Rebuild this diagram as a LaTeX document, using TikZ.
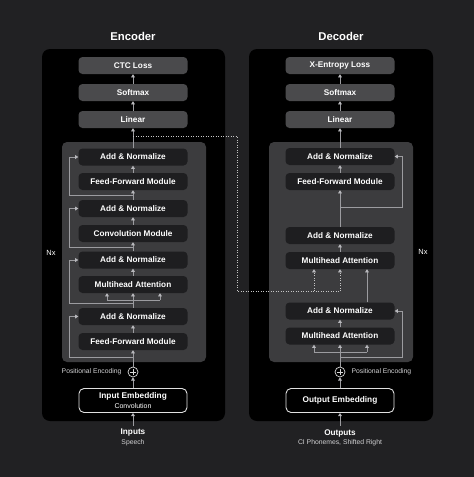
\documentclass[tikz,border=0pt]{standalone}
\usepackage{fontspec}
\setmainfont{Liberation Sans}
\usetikzlibrary{arrows.meta,shapes.geometric}
\definecolor{bg}{HTML}{212123}
\definecolor{panelgray}{HTML}{3C3C3E}
\definecolor{topfill}{HTML}{4A4A4C}
\definecolor{innerfill}{HTML}{1E1E20}
\definecolor{linec}{HTML}{9C9CA0}
\definecolor{tipc}{HTML}{B8B8BC}
\definecolor{subtext}{HTML}{D2D2D4}
\tikzset{
  boxbase/.style={rounded corners=4pt, minimum width=109pt, minimum height=17pt, inner sep=0pt, text=white, font=\bfseries\fontsize{8.2}{9}\selectfont},
  topbox/.style={boxbase, fill=topfill},
  innerbox/.style={boxbase, fill=innerfill},
  embbox/.style={draw=white!88!black, line width=0.9pt, fill=black, rounded corners=5pt, minimum width=108pt, minimum height=24pt, inner sep=0pt, text=white, align=center},
  conn/.style={draw=linec, line width=0.7pt},
  arr/.style={conn, -{Triangle[width=3.8pt,length=3.2pt,color=tipc]}},
  dotc/.style={draw=white!78!black, line width=0.9pt, dash pattern=on 0.9pt off 1.6pt},
  dotarr/.style={dotc, -{Triangle[width=3.8pt,length=3.2pt,color=tipc]}},
  title/.style={text=white, font=\bfseries\fontsize{11.3}{13}\selectfont},
  small/.style={text=subtext, font=\fontsize{6.8}{8}\selectfont},
  nx/.style={text=white, font=\fontsize{7.5}{9}\selectfont},
  pecirc/.style={circle, draw=white!85!black, line width=0.7pt, minimum size=10pt, inner sep=0pt},
}
\begin{document}
\begin{tikzpicture}[x=1pt,y=-1pt]
\useasboundingbox (0,0) rectangle (474,477);
\fill[bg] (0,0) rectangle (474,477);

% panels
\fill[black, rounded corners=8pt] (42,49) rectangle (225,421);
\fill[black, rounded corners=8pt] (249,49) rectangle (433,421);
\fill[panelgray, rounded corners=5pt] (62,142) rectangle (206,362);
\fill[panelgray, rounded corners=5pt] (269,142) rectangle (413,362);

% titles
\node[title] (enct) at (133,36) {Encoder};
\node[title] (dect) at (341,36) {Decoder};
\node[nx] (nxe) at (51,253) {Nx};
\node[nx] (nxd) at (423,252) {Nx};

% ---------------- Encoder ----------------
\node[topbox] (ctc) at (133,65.5) {CTC Loss};
\node[topbox] (esm) at (133,92.5) {Softmax};
\node[topbox] (elin) at (133,119.5) {Linear};
\node[innerbox] (ean1) at (133,157) {Add \& Normalize};
\node[innerbox] (eff1) at (133,181.5) {Feed-Forward Module};
\node[innerbox] (ean2) at (133,208.5) {Add \& Normalize};
\node[innerbox] (econv) at (133,233.5) {Convolution Module};
\node[innerbox] (ean3) at (133,260) {Add \& Normalize};
\node[innerbox] (emha) at (133,284.5) {Multihead Attention};
\node[innerbox] (ean4) at (133,316.5) {Add \& Normalize};
\node[innerbox] (eff4) at (133,341.5) {Feed-Forward Module};
\node[pecirc] (epe) at (133,372) {};
\draw[white!85!black, line width=0.7pt] ([xshift=-3pt]epe.center) -- ([xshift=3pt]epe.center) ([yshift=-3pt]epe.center) -- ([yshift=3pt]epe.center);
\node[small, anchor=east] (epel) at (125,372) {Positional Encoding};
\node[embbox] (eemb) at (133,400.5) {{\bfseries\fontsize{8.3}{9}\selectfont Input Embedding}\\[-1.5pt]{\fontsize{7}{8}\selectfont Convolution}};
\node[text=white, font=\bfseries\fontsize{8.2}{9}\selectfont] (ein) at (133,433) {Inputs};
\node[small] (einl) at (133,442.5) {Speech};

% encoder connectors
\draw[arr] (ein.north) -- (eemb.south);
\draw[arr] (eemb.north) -- (epe.south);
\draw[arr] (epe.north) -- (eff4.south);
\draw[arr] (eff4.north) -- (ean4.south);
\coordinate (em) at (133,300);
\draw[conn] (ean4.north) -- (em);
\draw[arr] (em) -- (emha.south);
\draw[conn] (107,300) -- (160,300);
\draw[arr] (107,300) -- ([xshift=-26pt]emha.south);
\draw[arr] (160,300) -- ([xshift=27pt]emha.south);
\draw[arr] (emha.north) -- (ean3.south);
\draw[arr] (ean3.north) -- (econv.south);
\draw[arr] (econv.north) -- (ean2.south);
\draw[arr] (ean2.north) -- (eff1.south);
\draw[arr] (eff1.north) -- (ean1.south);
\draw[arr] (ean1.north) -- (elin.south);
\draw[arr] (elin.north) -- (esm.south);
\draw[arr] (esm.north) -- (ctc.south);
% residuals
\coordinate (er1) at (133,195);
\coordinate (er2) at (133,247);
\coordinate (er3) at (133,303);
\coordinate (er4) at (133,357);
\draw[arr] (er1) -| ([xshift=-9pt]ean1.west) -- (ean1.west);
\draw[arr] (er2) -| ([xshift=-9pt]ean2.west) -- (ean2.west);
\draw[arr] (er3) -| ([xshift=-9pt]ean3.west) -- (ean3.west);
\draw[arr] (er4) -| ([xshift=-9pt]ean4.west) -- (ean4.west);

% ---------------- Decoder ----------------
\node[topbox] (xent) at (340,65.5) {X-Entropy Loss};
\node[topbox] (dsm) at (340,92.5) {Softmax};
\node[topbox] (dlin) at (340,119.5) {Linear};
\node[innerbox] (dan1) at (340,156.5) {Add \& Normalize};
\node[innerbox] (dff) at (340,181.5) {Feed-Forward Module};
\node[innerbox] (dan2) at (340,235.5) {Add \& Normalize};
\node[innerbox] (dmha2) at (340,260.5) {Multihead Attention};
\node[innerbox] (dan3) at (340,311) {Add \& Normalize};
\node[innerbox] (dmha3) at (340,336) {Multihead Attention};
\node[pecirc] (dpe) at (340,372) {};
\draw[white!85!black, line width=0.7pt] ([xshift=-3pt]dpe.center) -- ([xshift=3pt]dpe.center) ([yshift=-3pt]dpe.center) -- ([yshift=3pt]dpe.center);
\node[small, anchor=west] (dpel) at (348,372) {Positional Encoding};
\node[embbox] (demb) at (340,400.5) {\bfseries\fontsize{8.3}{9}\selectfont Output Embedding};
\node[text=white, font=\bfseries\fontsize{8.2}{9}\selectfont] (dout) at (340,433) {Outputs};
\node[small] (doutl) at (340,442.5) {CI Phonemes, Shifted Right};

% decoder connectors
\draw[arr] (dout.north) -- (demb.south);
\draw[arr] (demb.north) -- (dpe.south);
\coordinate (dm3) at (340,352);
\draw[conn] (dpe.north) -- (dm3);
\draw[arr] (dm3) -- (dmha3.south);
\draw[conn] (314,352) -- (367,352);
\draw[arr] (314,352) -- ([xshift=-26pt]dmha3.south);
\draw[arr] (367,352) -- ([xshift=27pt]dmha3.south);
\draw[arr] (dmha3.north) -- (dan3.south);
\draw[arr] ([xshift=27pt]dan3.north) -- ([xshift=27pt]dmha2.south);
\draw[arr] (dmha2.north) -- (dan2.south);
\draw[arr] (dan2.north) -- (dff.south);
\draw[arr] (dff.north) -- (dan1.south);
\draw[arr] (dan1.north) -- (dlin.south);
\draw[arr] (dlin.north) -- (dsm.south);
\draw[arr] (dsm.north) -- (xent.south);
% decoder residuals
\coordinate (dr1) at (340,207);
\coordinate (dr3) at (340,357);
\draw[arr] (dr1) -| ([xshift=8pt]dan1.east) -- (dan1.east);
\draw[arr] (dr3) -| ([xshift=8pt]dan3.east) -- (dan3.east);

% encoder output to cross attention (dotted)
\coordinate (eo) at (133,136);
\coordinate (dk) at (314,291);
\coordinate (dv) at (340,291);
\draw[dotc] (eo) -| (237,291) -- (dv);
\draw[dotarr] (dk) -- ([xshift=-26pt]dmha2.south);
\draw[dotarr] (dv) -- (dmha2.south);
\end{tikzpicture}
\end{document}
